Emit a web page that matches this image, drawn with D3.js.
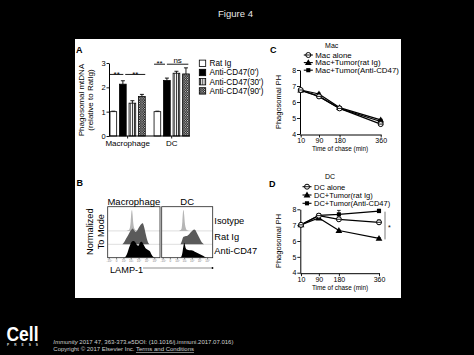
<!DOCTYPE html>
<html><head><meta charset="utf-8">
<script src="https://cdn.jsdelivr.net/npm/d3@7"></script>
<style>body{margin:0;background:#000;} svg{display:block;font-family:"Liberation Sans",Arial,sans-serif;}</style>
</head><body><svg id="fig" width="474" height="355"></svg>
<script>
// ---------- Panel A data ----------
const groupsA = ["Macrophage", "DC"];
const seriesA = ["Rat Ig", "Anti-CD47(0')", "Anti-CD47(30')", "Anti-CD47(90')"];
const macValues = [1.0, 2.13, 1.35, 1.62];
const macErrors = [0.02, 0.14, 0.1, 0.09];
const dcValues = [1.0, 2.28, 2.58, 2.55];
const dcErrors = [0.02, 0.1, 0.08, 0.25];
const ticksA = [0, 1, 2, 3];
const sigA = [
  { g: "Macrophage", from: 0, to: 1.4, level: 2.53, label: "**" },
  { g: "Macrophage", from: 1.6, to: 3.7, level: 2.53, label: "**" },
  { g: "DC", from: 0, to: 1.15, level: 2.95, label: "**" },
  { g: "DC", from: 1.35, to: 3.6, level: 2.95, label: "ns" }
];

// ---------- Panel B data (LAMP-1 channel 0-100, % of mode) ----------
const histRows = ["Isotype", "Rat Ig", "Anti-CD47"];
const histCells = ["Macrophage", "DC"];
const macIsotype = [[36,0],[40,4],[42,12],[44,45],[45.5,95],[46.5,100],[47.5,80],[49,35],[51,12],[54,3],[58,0]];
const macRatIg = [[28,0],[31,8],[34,22],[37,35],[40,48],[43,62],[46,72],[48,75],[50,68],[53,60],[56,64],[59,78],[62,90],[65,98],[67,100],[69,88],[71,68],[73,45],[75,25],[77,10],[80,0]];
const macAnti = [[32,0],[35,8],[38,25],[41,48],[44,68],[47,78],[50,80],[53,72],[56,60],[58.5,57],[61,68],[64,76],[66,74],[69,60],[72,46],[75,40],[78,36],[81,30],[84,14],[87,4],[90,0]];
const dcIsotype = [[34,0],[37,4],[39,12],[40.5,45],[42,95],[43,100],[44,78],[45.5,35],[47.5,12],[50,3],[54,0]];
const dcRatIg = [[37,0],[39,12],[41,28],[43,36],[46,38],[49,39],[52,44],[55,52],[58,60],[61,67],[64,71],[66,68],[68,58],[71,44],[74,30],[77,16],[80,6],[83,0]];
const dcAnti = [[36,0],[39,8],[41,30],[43,60],[44.3,71],[45.5,62],[47,46],[49,39],[52,37],[56,35],[60,34],[64,30],[68,25],[72,20],[76,15],[80,10],[84,5],[88,0]];
const histTicks = [3, 17, 31, 45, 60, 75, 90];
const histTickLabels = ["-10²", "0", "10²", "10³", "10⁴", "10⁵", "10⁶"];

// ---------- Panels C / D data ----------
const chaseTimes = [10, 90, 180, 360];
const phTicks = [4, 5, 6, 7, 8];
const macAlone = [6.75, 6.35, 5.6, 4.62];
const macRatIg2 = [6.75, 6.5, 5.65, 4.88];
const macAnti2 = [6.72, 6.35, 5.6, 4.78];
const macAloneErr = [0.05, 0.05, 0.05, 0.06];
const macRatIgErr = [0.05, 0.06, 0.04, 0.05];
const macAntiErr = [0.05, 0.06, 0.04, 0.05];
const dcAlone = [7.02, 7.6, 7.37, 7.18];
const dcRatIg2 = [7.02, 7.45, 6.66, 6.17];
const dcAnti2 = [7.02, 7.62, 7.68, 7.89];
const dcAloneErr = [0.04, 0.06, 0.08, 0.15];
const dcRatIgErr = [0.04, 0.05, 0.04, 0.04];
const dcAntiErr = [0.04, 0.06, 0.25, 0.12];
const legendC = ["Mac alone", "Mac+Tumor(rat Ig)", "Mac+Tumor(Anti-CD47)"];
const legendD = ["DC alone", "DC+Tumor(rat Ig)", "DC+Tumor(Anti-CD47)"];
const sigD = { from: 7.85, to: 6.1, label: "*" };

// ---------- drawing ----------
const svg = d3.select("#fig");
svg.append("rect").attr("width", 474).attr("height", 355).attr("fill", "#000");
svg.append("rect").attr("x", 75).attr("y", 39).attr("width", 326).attr("height", 259).attr("fill", "#fff");
svg.append("text").attr("x", 235.5).attr("y", 16.5).attr("text-anchor", "middle")
  .attr("fill", "#e8e8e8").attr("font-size", 9.5).text("Figure 4");

const defs = svg.append("defs");
const pv = defs.append("pattern").attr("id", "vstripe").attr("patternUnits", "userSpaceOnUse")
  .attr("width", 2.2).attr("height", 4);
pv.append("rect").attr("width", 2.2).attr("height", 4).attr("fill", "#fff");
pv.append("rect").attr("width", 0.9).attr("height", 4).attr("fill", "#222");
const pc = defs.append("pattern").attr("id", "checker").attr("patternUnits", "userSpaceOnUse")
  .attr("width", 2.4).attr("height", 2.4);
pc.append("rect").attr("width", 2.4).attr("height", 2.4).attr("fill", "#111");
pc.append("rect").attr("width", 1).attr("height", 1).attr("fill", "#fff");
pc.append("rect").attr("x", 1.2).attr("y", 1.2).attr("width", 1).attr("height", 1).attr("fill", "#fff");

const fmtInt = d3.format("d");
function panelLetter(t, x, y) {
  svg.append("text").attr("x", x).attr("y", y).attr("font-size", 9).attr("font-weight", "bold").text(t);
}
function styleAxis(g, fs) {
  g.selectAll("path.domain").attr("stroke", "#000").attr("stroke-width", 1);
  g.selectAll(".tick line").attr("stroke", "#000").attr("stroke-width", 0.9);
  g.selectAll(".tick text").attr("font-size", fs).attr("fill", "#000")
    .attr("font-family", "'Liberation Sans',Arial,sans-serif");
}

// ===== Panel A =====
panelLetter("A", 76, 52.5);
const yA = d3.scaleLinear().domain([0, 3]).range([136, 63]);
const xA = d3.scaleBand().domain(groupsA).range([110, 189.3]).paddingInner(0.2);
const xS = d3.scaleBand().domain(seriesA).range([0, xA.bandwidth()]).paddingInner(0.3);
const fillsA = ["#fff", "#000", "url(#vstripe)", "url(#checker)"];
const dataA = [{ g: "Macrophage", v: macValues, e: macErrors }, { g: "DC", v: dcValues, e: dcErrors }];
const gA = svg.append("g");
dataA.forEach(d => {
  seriesA.forEach((s, i) => {
    const x = xA(d.g) + xS(s), bw = xS.bandwidth();
    const top = yA(d.v[i]);
    gA.append("line").attr("x1", x + bw / 2).attr("x2", x + bw / 2)
      .attr("y1", top).attr("y2", yA(d.v[i] + d.e[i])).attr("stroke", "#000").attr("stroke-width", 0.9);
    gA.append("line").attr("x1", x + bw * 0.2).attr("x2", x + bw * 0.8)
      .attr("y1", yA(d.v[i] + d.e[i])).attr("y2", yA(d.v[i] + d.e[i])).attr("stroke", "#000").attr("stroke-width", 0.9);
    gA.append("rect").attr("x", x).attr("y", top).attr("width", bw).attr("height", yA(0) - top)
      .attr("fill", fillsA[i]).attr("stroke", "#000").attr("stroke-width", 0.8);
  });
});
const axA = svg.append("g").attr("transform", "translate(109,0)")
  .call(d3.axisLeft(yA).tickValues(ticksA).tickFormat(fmtInt).tickSize(2.5).tickSizeOuter(0).tickPadding(0.8));
styleAxis(axA, 7.5);
const axAx = svg.append("g").attr("transform", "translate(0,136)")
  .call(d3.axisBottom(xA).tickSize(2.5).tickSizeOuter(0).tickPadding(1.5));
axAx.select("path.domain").attr("d", "M109,0H190");
styleAxis(axAx, 8);
// significance
sigA.forEach(s => {
  const x1 = xA(s.g) + s.from * xS.step(), x2 = xA(s.g) + s.to * xS.step();
  const yy = yA(s.level);
  svg.append("line").attr("x1", x1).attr("x2", x2).attr("y1", yy).attr("y2", yy)
    .attr("stroke", "#000").attr("stroke-width", 0.9);
  svg.append("text").attr("x", (x1 + x2) / 2).attr("y", s.label === "ns" ? yy - 1 : yy + 2.2)
    .attr("text-anchor", "middle").attr("font-size", 8).text(s.label);
});
// y label
svg.append("text").attr("transform", "translate(83.5,100) rotate(-90)").attr("text-anchor", "middle")
  .attr("font-size", 8).text("Phagosomal mtDNA");
svg.append("text").attr("transform", "translate(92.6,100) rotate(-90)").attr("text-anchor", "middle")
  .attr("font-size", 8).text("(relative to RatIg)");
// legend A
const legA = svg.append("g");
seriesA.forEach((s, i) => {
  const yy = 63.3 + i * 9.2;
  legA.append("rect").attr("x", 199.3).attr("y", yy - 3.2).attr("width", 6.4).attr("height", 6.4)
    .attr("fill", fillsA[i]).attr("stroke", "#000").attr("stroke-width", 0.8);
  legA.append("text").attr("x", 209.5).attr("y", yy + 2.9).attr("font-size", 8.2).text(s);
});

// ===== Panel B =====
panelLetter("B", 76.5, 185.5);
const boxes = [
  { cell: "Macrophage", x0: 107.7, x1: 160, data: [macIsotype, macRatIg, macAnti] },
  { cell: "DC", x0: 161.7, x1: 212.7, data: [dcIsotype, dcRatIg, dcAnti] }
];
const boxTop = 206.7, boxBottom = 257.7, rowStep = 13.4;
const hY = d3.scaleLinear().domain([0, 100]).range([0, 21]);
const histFill = ["#b6b6b6", "#5a5a5a", "#000"];
boxes.forEach((b, bi) => {
  const xh = d3.scaleLinear().domain([0, 100]).range([b.x0, b.x1]);
  const g = svg.append("g");
  const clipId = "clip" + bi;
  defs.append("clipPath").attr("id", clipId).append("rect")
    .attr("x", b.x0).attr("y", boxTop).attr("width", b.x1 - b.x0).attr("height", boxBottom - boxTop);
  const inner = g.append("g").attr("clip-path", "url(#" + clipId + ")");
  [1, 2].forEach(k => {
    const by = boxBottom - k * rowStep;
    inner.append("line").attr("x1", b.x0).attr("x2", b.x1).attr("y1", by).attr("y2", by)
      .attr("stroke", "#c8c8c8").attr("stroke-width", 0.6);
  });
  b.data.forEach((arr, ri) => {
    const base = boxBottom - (2 - ri) * rowStep;
    const area = d3.area().x(d => xh(d[0])).y0(base).y1(d => base - hY(d[1])).curve(d3.curveMonotoneX);
    inner.append("path").attr("d", area(arr)).attr("fill", histFill[ri]);
  });
  g.append("rect").attr("x", b.x0).attr("y", boxTop).attr("width", b.x1 - b.x0).attr("height", boxBottom - boxTop)
    .attr("fill", "none").attr("stroke", "#222").attr("stroke-width", 0.8);
  histTicks.forEach((t, ti) => {
    g.append("line").attr("x1", xh(t)).attr("x2", xh(t)).attr("y1", boxBottom).attr("y2", boxBottom + 1.6)
      .attr("stroke", "#333").attr("stroke-width", 0.6);
    g.append("text").attr("x", xh(t)).attr("y", boxBottom + 4.6).attr("text-anchor", "middle")
      .attr("font-size", 3).attr("fill", "#777").text(histTickLabels[ti]);
  });
  g.append("text").attr("x", (b.x0 + b.x1) / 2).attr("y", 205).attr("text-anchor", "middle")
    .attr("font-size", 9.5).text(b.cell);
});
histRows.forEach((r, i) => {
  svg.append("text").attr("x", 214.3).attr("y", [224, 240, 254.3][i]).attr("font-size", 9.3).text(r);
});
svg.append("text").attr("transform", "translate(93.3,231.7) rotate(-90)").attr("text-anchor", "middle")
  .attr("font-size", 9.2).text("Normalized");
svg.append("text").attr("transform", "translate(104,231.7) rotate(-90)").attr("text-anchor", "middle")
  .attr("font-size", 9.2).text("To Mode");
svg.append("text").attr("x", 110).attr("y", 272.5).attr("font-size", 9.2).text("LAMP-1");
svg.append("line").attr("x1", 143).attr("x2", 212.5).attr("y1", 268).attr("y2", 268)
  .attr("stroke", "#444").attr("stroke-width", 0.6);
svg.append("circle").attr("cx", 212.5).attr("cy", 268).attr("r", 0.9).attr("fill", "#000");

// ===== Panels C & D =====
function drawMarker(g, type, x, y) {
  if (type === "circle") {
    g.append("circle").attr("cx", x).attr("cy", y).attr("r", 2.5).attr("fill", "#fff")
      .attr("stroke", "#000").attr("stroke-width", 1);
    g.append("line").attr("x1", x - 2.5).attr("x2", x + 2.5).attr("y1", y).attr("y2", y)
      .attr("stroke", "#000").attr("stroke-width", 0.9);
  } else if (type === "triangle") {
    g.append("path").attr("transform", `translate(${x},${y + 0.5})`)
      .attr("d", d3.symbol().type(d3.symbolTriangle).size(20)()).attr("fill", "#000");
  } else {
    g.append("path").attr("transform", `translate(${x},${y})`)
      .attr("d", d3.symbol().type(d3.symbolSquare).size(17)()).attr("fill", "#000");
  }
}
function linePanel(cfg) {
  const x = d3.scaleLinear().domain([10, 360]).range(cfg.xr);
  const y = d3.scaleLinear().domain([4, 8]).range(cfg.yr);
  const g = svg.append("g");
  const ax = g.append("g").attr("transform", `translate(${cfg.xr[0] - 0.7},0)`)
    .call(d3.axisLeft(y).tickValues(phTicks).tickFormat(fmtInt).tickSize(3).tickSizeOuter(0).tickPadding(0.8));
  styleAxis(ax, 7);
  const bx = g.append("g").attr("transform", `translate(0,${cfg.yr[0] + 1})`)
    .call(d3.axisBottom(x).tickValues(chaseTimes).tickFormat(fmtInt).tickSize(2.5).tickSizeOuter(0).tickPadding(1));
  bx.select("path.domain").attr("d", `M${cfg.xr[0] - 0.7},0H${cfg.xr[1] + 1}`);
  styleAxis(bx, 7);
  const line = d3.line().x((d, i) => x(chaseTimes[i])).y(d => y(d));
  const order = [2, 1, 0];
  cfg.series.forEach(s => {
    g.append("path").attr("d", line(s.v)).attr("fill", "none").attr("stroke", "#000").attr("stroke-width", 1.2);
  });
  order.forEach(k => {
    const s = cfg.series[k];
    s.v.forEach((v, i) => {
      const xx = x(chaseTimes[i]);
      g.append("line").attr("x1", xx).attr("x2", xx).attr("y1", y(v - s.e[i])).attr("y2", y(v + s.e[i]))
        .attr("stroke", "#000").attr("stroke-width", 0.8);
      g.append("line").attr("x1", xx - 1.8).attr("x2", xx + 1.8).attr("y1", y(v + s.e[i])).attr("y2", y(v + s.e[i]))
        .attr("stroke", "#000").attr("stroke-width", 0.8);
      drawMarker(g, s.m, xx, y(v));
    });
  });
  // legend
  cfg.series.forEach((s, i) => {
    const yy = cfg.legY + i * cfg.legStep;
    g.append("line").attr("x1", cfg.legX - 4.5).attr("x2", cfg.legX + 4.5).attr("y1", yy).attr("y2", yy)
      .attr("stroke", "#000").attr("stroke-width", 1.1);
    drawMarker(g, s.m, cfg.legX, yy);
    g.append("text").attr("x", cfg.legX + 7).attr("y", yy + 2.8).attr("font-size", cfg.legFs).text(cfg.legend[i]);
  });
  g.append("text").attr("x", cfg.titleX).attr("y", cfg.titleY).attr("text-anchor", "middle")
    .attr("font-size", 7).text(cfg.title);
  g.append("text").attr("transform", `translate(281,${(cfg.yr[0] + cfg.yr[1]) / 2}) rotate(-90)`)
    .attr("text-anchor", "middle").attr("font-size", 7.5).text("Phagosomal PH");
  g.append("text").attr("x", 340).attr("y", cfg.yr[0] + 17).attr("text-anchor", "middle")
    .attr("font-size", 6.4).text("Time of chase (min)");
  return { x, y, g };
}
panelLetter("C", 270, 52.5);
linePanel({
  xr: [300.7, 380.7], yr: [134, 70], title: "Mac", titleX: 331.7, titleY: 47.5,
  legX: 308.3, legY: 55, legStep: 7.6, legFs: 7.9, legend: legendC,
  series: [
    { v: macAlone, e: macAloneErr, m: "circle" },
    { v: macRatIg2, e: macRatIgErr, m: "triangle" },
    { v: macAnti2, e: macAntiErr, m: "square" }
  ]
});
panelLetter("D", 269, 186.5);
const pd = linePanel({
  xr: [301, 379], yr: [272.7, 209.3], title: "DC", titleX: 330, titleY: 179,
  legX: 307, legY: 186.7, legStep: 8.3, legFs: 7.5, legend: legendD,
  series: [
    { v: dcAlone, e: dcAloneErr, m: "circle" },
    { v: dcRatIg2, e: dcRatIgErr, m: "triangle" },
    { v: dcAnti2, e: dcAntiErr, m: "square" }
  ]
});
svg.append("line").attr("x1", 385).attr("x2", 385).attr("y1", pd.y(sigD.from)).attr("y2", pd.y(sigD.to))
  .attr("stroke", "#555").attr("stroke-width", 0.8);
svg.append("text").attr("x", 388).attr("y", 229.5).attr("font-size", 7).text(sigD.label);

// ===== Footer =====
svg.append("text").attr("x", 6.5).attr("y", 340.5).attr("font-size", 21).attr("font-weight", "bold")
  .attr("fill", "#fff").attr("textLength", 32).attr("lengthAdjust", "spacingAndGlyphs").text("Cell");
svg.append("text").attr("x", 7).attr("y", 346).attr("font-size", 3.2).attr("font-weight", "bold")
  .attr("fill", "#ddd").attr("textLength", 31).attr("lengthAdjust", "spacing").text("PRESS");
const f1 = svg.append("text").attr("x", 53.3).attr("y", 344.3).attr("font-size", 6).attr("fill", "#d0d0d0");
f1.append("tspan").attr("font-style", "italic").text("Immunity");
f1.append("tspan").text(" 2017 47, 363-373.e5DOI: (10.1016/j.immuni.2017.07.016)");
const f2 = svg.append("text").attr("x", 53.3).attr("y", 351).attr("font-size", 6).attr("fill", "#d0d0d0");
f2.append("tspan").text("Copyright © 2017 Elsevier Inc. ");
f2.append("tspan").attr("text-decoration", "underline").text("Terms and Conditions");
</script>
</body></html>
